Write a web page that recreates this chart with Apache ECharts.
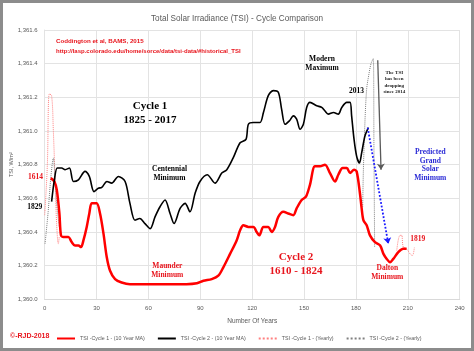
<!DOCTYPE html>
<html>
<head>
<meta charset="utf-8">
<script src="https://cdn.jsdelivr.net/npm/echarts@6/dist/echarts.min.js"></script>
<style>
  html, body { margin: 0; padding: 0; background: #fff; }
  #chart { width: 474px; height: 351px; }
</style>
</head>
<body>
<div id="chart"></div>
<script>
// x axis ticks
var xTicks = [0, 30, 60, 90, 120, 150, 180, 210, 240];
var yTicks = [1360.0, 1360.2, 1360.4, 1360.6, 1360.8, 1361.0, 1361.2, 1361.4, 1361.6];

// Cycle 2 (1610-1824), 10 year MA - red
var redMaYears = [3.5, 5.6, 7, 8.5, 9.4, 10.8, 13.7, 15.6, 17.5, 19.5, 21, 22.4, 24.3, 25.8, 27.2, 30, 32, 34, 35.9, 37.8,
  40.7, 44.5, 49.3, 61, 70.6, 82, 88, 91.8, 96.6, 100.4, 103.3, 107.2, 111, 113, 114.9, 117.8, 120.7, 122.6, 124.1, 126.5,
  129.3, 131.3, 133.2, 135.1, 138, 140.9, 143.8, 145.7, 148.6, 151.1, 153.4, 156.3, 159.2, 162.1, 165, 167.9, 169.8, 172.3,
  174.7, 176.6, 178.9, 180.4, 182.3, 183.3, 184.3, 186.2, 188.1, 191, 194, 195.9, 197.8, 199.7, 201.6, 204.5, 207.4, 209.3];
var redMaTsi = [1360.72, 1360.70, 1360.65, 1360.51, 1360.38, 1360.37, 1360.37, 1360.34, 1360.32, 1360.32, 1360.31, 1360.35,
  1360.43, 1360.51, 1360.57, 1360.57, 1360.51, 1360.39, 1360.25, 1360.17, 1360.12, 1360.10, 1360.09, 1360.09, 1360.09,
  1360.09, 1360.095, 1360.11, 1360.12, 1360.14, 1360.19, 1360.27, 1360.35, 1360.41, 1360.44, 1360.43, 1360.43, 1360.40,
  1360.38, 1360.43, 1360.43, 1360.40, 1360.43, 1360.49, 1360.52, 1360.51, 1360.50, 1360.54, 1360.59, 1360.61, 1360.68,
  1360.79, 1360.79, 1360.80, 1360.75, 1360.70, 1360.74, 1360.78, 1360.78, 1360.75, 1360.77, 1360.76, 1360.63, 1360.54,
  1360.47, 1360.44, 1360.38, 1360.34, 1360.32, 1360.27, 1360.24, 1360.22, 1360.24, 1360.28, 1360.30, 1360.30];

// Cycle 1 (1825-2017), 10 year MA - black
var blackMaYears = [4, 5.6, 7.3, 9.8, 11.8, 14.3, 16.6, 19.5, 23.3, 25.8, 28.5, 31, 33, 36, 38.7, 42.6, 46.5, 49.3, 52.2, 55,
  58, 61, 63.8, 66.7, 69.6, 72.5, 74.8, 78.3, 81.2, 84, 87, 89.8, 94, 98.5, 102.4, 105.3, 109, 113, 116.4, 117.8, 120.7,
  124.5, 126.5, 129.3, 132.2, 135.1, 137, 139, 141.5, 143.8, 145.7, 147.7, 149.6, 151.5, 153.4, 157.3, 160.2, 162, 164, 167,
  169.8, 171.8, 174.7, 176.6, 177.5, 178.9, 180.4, 182, 183.3, 185.2, 187.2];
var blackMaTsi = [1360.58, 1360.71, 1360.78, 1360.78, 1360.77, 1360.78, 1360.70, 1360.71, 1360.76, 1360.73, 1360.64, 1360.66,
  1360.665, 1360.70, 1360.69, 1360.73, 1360.70, 1360.57, 1360.47, 1360.48, 1360.45, 1360.42, 1360.49, 1360.55, 1360.59,
  1360.51, 1360.45, 1360.54, 1360.57, 1360.52, 1360.63, 1360.70, 1360.74, 1360.69, 1360.75, 1360.77, 1360.84, 1360.93,
  1360.95, 1361.04, 1361.05, 1361.05, 1361.11, 1361.21, 1361.24, 1361.23, 1361.13, 1361.04, 1361.06, 1361.09, 1361.07,
  1361.01, 1361.04, 1361.14, 1361.17, 1361.15, 1361.14, 1361.12, 1361.10, 1361.11, 1361.10, 1361.14, 1361.17, 1361.17,
  1361.09, 1360.95, 1360.85, 1360.81, 1360.87, 1360.97, 1361.02];

// yearly values (only the unsmoothed ends are shown)
var redYrYears = [0, 1.5, 2.7, 4.0, 5.0, 6.0, 6.9, 7.9, 8.4, null, 203.6, 205.5, 206.4, 207.4, 209.3, 211.3, 212.6, 213.8];
var redYrTsi = [1360.50, 1360.79, 1361.22, 1361.21, 1361.00, 1360.71, 1360.45, 1360.33, 1360.37, null,
  1360.29, 1360.38, 1360.38, 1360.31, 1360.30, 1360.27, 1360.26, 1360.31];
var greyYrYears = [0.2, 2, 3.5, 5, 6, 7, 8.4, null, 183.9, 184.3, 185.3, 186.2, 187.2, 188.7, 190, 190.4, 190.8];
var greyYrTsi = [1360.33, 1360.52, 1360.72, 1360.84, 1360.71, 1360.56, 1360.43, null,
  1360.55, 1360.77, 1361.08, 1361.25, 1361.32, 1361.40, 1361.43, 1360.90, 1360.31];

function zip(xs, ys) {
  var out = [];
  for (var i = 0; i < xs.length; i++) {
    out.push(xs[i] === null ? '-' : [xs[i], ys[i]]);
  }
  return out;
}

var RED_TXT = '#e8141c';
var serif = 'bold {s}px "Liberation Serif", "DejaVu Serif", serif';

function label(text, x, y, size, color, lh) {
  return {
    type: 'text', x: x, y: y, silent: true, z: 100,
    style: {
      text: text,
      font: serif.replace('{s}', size),
      fill: color,
      align: 'center',
      verticalAlign: 'middle',
      lineHeight: lh || size + 1
    }
  };
}

var chart = echarts.init(document.getElementById('chart'));

var option = {
  backgroundColor: '#fff',
  animation: false,
  title: {
    text: 'Total Solar Irradiance (TSI) - Cycle Comparison',
    left: 'center',
    top: 10,
    textStyle: { fontFamily: 'Liberation Sans', fontWeight: 'normal', fontSize: 8.2, color: '#595959' }
  },
  grid: { left: 44.7, right: 14.3, top: 30, bottom: 51.7, outerBoundsMode: 'none' },
  legend: {
    left: 51, top: 331,
    itemWidth: 18, itemHeight: 6, itemGap: 12,
    itemStyle: { opacity: 0 },
    textStyle: { fontFamily: 'Liberation Sans', fontSize: 5.3, color: '#595959' },
    data: ['TSI -Cycle 1 - (10 Year MA)', 'TSI -Cycle 2 - (10 Year MA)', 'TSI -Cycle 1 - (Yearly)', 'TSI -Cycle 2 - (Yearly)']
  },
  xAxis: {
    type: 'value', min: 0, max: 240, interval: 30,
    name: 'Number Of Years', nameLocation: 'middle', nameGap: 18,
    nameTextStyle: { fontFamily: 'Liberation Sans', fontSize: 6.5, color: '#595959' },
    axisLine: { lineStyle: { color: '#d9d9d9' } },
    axisTick: { show: false },
    axisLabel: { fontFamily: 'Liberation Sans', fontSize: 6, color: '#595959', margin: 6 },
    splitLine: { show: true, lineStyle: { color: '#e3e3e3', width: 1 } }
  },
  yAxis: {
    type: 'value', min: 1360, max: 1361.6, interval: 0.2,
    name: 'TSI, W/m\u00b2', nameLocation: 'middle', nameGap: 30, nameRotate: 90, nameMoveOverlap: false,
    nameTextStyle: { fontFamily: 'Liberation Sans', fontSize: 5.5, color: '#595959' },
    axisLine: { show: true, lineStyle: { color: '#e3e3e3' } },
    axisTick: { show: false },
    axisLabel: {
      fontFamily: 'Liberation Sans', fontSize: 6, color: '#595959', margin: 7,
      formatter: function (v) {
        return v.toLocaleString('en-US', { minimumFractionDigits: 1, maximumFractionDigits: 1 });
      }
    },
    splitLine: { lineStyle: { color: '#e3e3e3', width: 1 } }
  },
  series: [
    {
      name: 'TSI -Cycle 1 - (Yearly)', type: 'line', data: zip(redYrYears, redYrTsi),
      symbol: 'none', smooth: 0.4, connectNulls: false, z: 2,
      lineStyle: { color: '#ff8080', width: 1, type: 'dotted' }, itemStyle: { color: '#ff8080' }
    },
    {
      name: 'TSI -Cycle 2 - (Yearly)', type: 'line', data: zip(greyYrYears, greyYrTsi),
      symbol: 'none', smooth: 0.3, connectNulls: false, z: 2,
      lineStyle: { color: '#808080', width: 1, type: 'dotted' }, itemStyle: { color: '#808080' }
    },
    {
      name: 'TSI -Cycle 1 - (10 Year MA)', type: 'line', data: zip(redMaYears, redMaTsi),
      symbol: 'none', smooth: 0.3, z: 3,
      lineStyle: { color: '#ff0000', width: 2.5 }, itemStyle: { color: '#ff0000' }
    },
    {
      name: 'TSI -Cycle 2 - (10 Year MA)', type: 'line', data: zip(blackMaYears, blackMaTsi),
      symbol: 'none', smooth: 0.3, z: 4,
      lineStyle: { color: '#000', width: 1.6 }, itemStyle: { color: '#000' },
      markLine: {
        silent: true, animation: false,
        label: { show: false },
        symbol: ['none', 'arrow'], symbolSize: 6,
        data: [
          [{ coord: [186.8, 1361.02], lineStyle: { color: '#1a1aff', width: 1.8, type: 'dotted' } },
           { coord: [198.7, 1360.33] }],
          [{ coord: [192.6, 1361.42], lineStyle: { color: '#595959', width: 1.3, type: 'solid' } },
           { coord: [194.5, 1360.77] }]
        ]
      }
    }
  ],
  graphic: [
    { type: 'rect', silent: true, shape: { x: 1.5, y: 1.5, width: 471, height: 348 },
      style: { fill: 'none', stroke: '#8c8c8c', lineWidth: 3 }, z: 100 },
    { type: 'text', x: 56, y: 41.7, silent: true, z: 100,
      style: { text: 'Coddington et al, BAMS, 2015', font: 'bold 6.2px "Liberation Sans"', fill: RED_TXT, verticalAlign: 'middle' } },
    { type: 'text', x: 56, y: 51, silent: true, z: 100,
      style: { text: 'http://lasp.colorado.edu/home/sorce/data/tsi-data/#historical_TSI', font: 'bold 6px "Liberation Sans"', fill: RED_TXT, verticalAlign: 'middle' } },
    { type: 'text', x: 29.7, y: 336, silent: true, z: 100,
      style: { text: '\u00a9-RJD-2018', font: 'bold 7px "Liberation Sans"', fill: RED_TXT, align: 'center', verticalAlign: 'middle' } },
    label('Cycle 1\n1825 - 2017', 150, 113, 11, '#000', 13.5),
    label('Centennial\nMinimum', 169.5, 173.8, 7.5, '#000', 9),
    label('Modern\nMaximum', 322, 63.5, 7.5, '#000', 9),
    label('2013', 356.5, 91.3, 7.5, '#000'),
    label('The TSI\nhas been\ndropping\nsince 2014', 394.3, 82.2, 5, '#222', 6.6),
    label('Predicted\nGrand\nSolar\nMinimum', 430.3, 165, 7.5, '#2b2bd6', 8.8),
    label('1614', 35.5, 177.3, 7.5, RED_TXT),
    label('1829', 34.8, 207, 7.5, '#000'),
    label('Maunder\nMinimum', 167.3, 270.2, 7.5, RED_TXT, 9),
    label('Cycle 2\n1610 - 1824', 296, 264, 11, RED_TXT, 13.5),
    label('Dalton\nMinimum', 387.3, 272.8, 7.5, RED_TXT, 9),
    label('1819', 417.8, 238.7, 7.5, RED_TXT)
  ]
};

chart.setOption(option);
</script>
</body>
</html>
